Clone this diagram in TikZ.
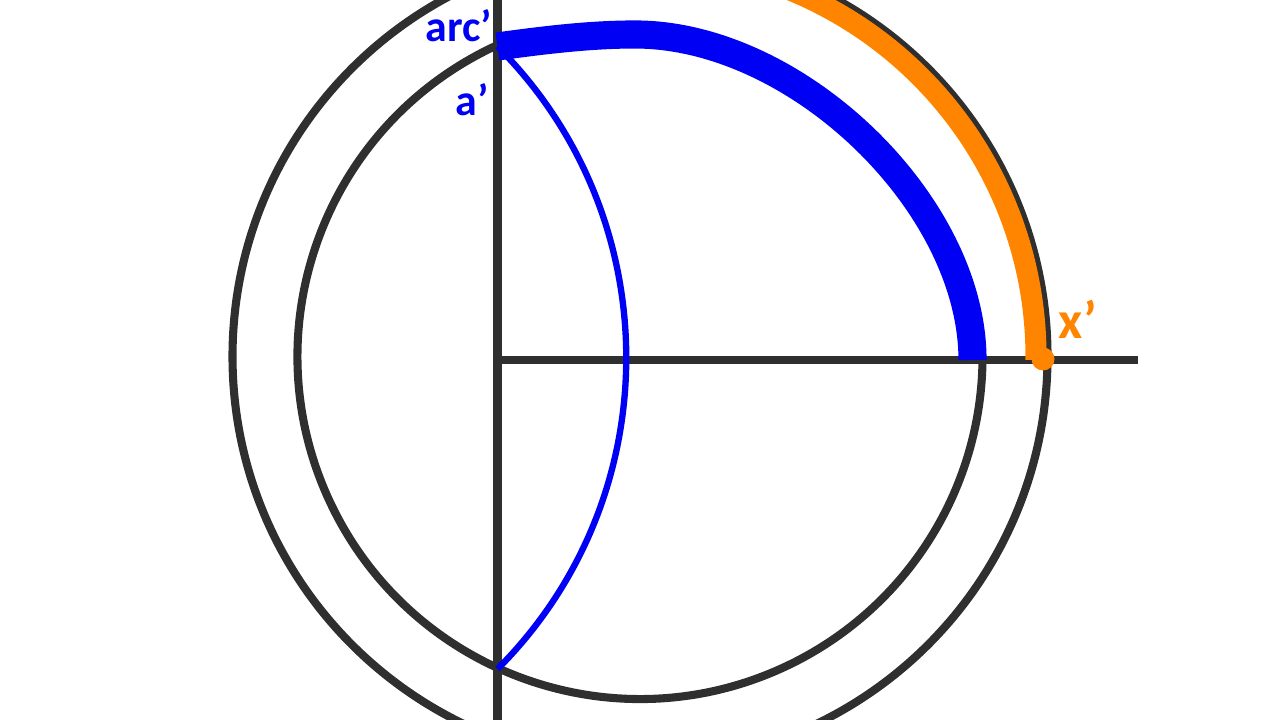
\documentclass[tikz,border=0pt]{standalone}
\usepackage{fontspec}
\setmainfont{Carlito}
\usetikzlibrary{positioning}
\definecolor{ink}{HTML}{2F2F2F}
\definecolor{arcblue}{HTML}{0000F5}
\definecolor{arcorange}{HTML}{FF8500}

\begin{document}
\begin{tikzpicture}
[
ring/.style={draw=ink, line width=2.3pt},
axisline/.style={draw=ink, line width=2.3pt},
band/.style={draw=arcblue, line width=8pt},
thinarc/.style={draw=arcblue, line width=1.8pt},
outband/.style={draw=arcorange, line width=6pt},
lab/.style={font=\bfseries\fontsize{12.5}{14}\selectfont, inner sep=0pt}
]
\useasboundingbox (0,0) rectangle (12.8,7.2);
\clip (0,0) rectangle (12.8,7.2);

\coordinate (C) at (6.40,3.635);
\coordinate (O) at (4.975,3.60);
\coordinate (ytop) at (4.975,7.2);
\coordinate (ybot) at (4.975,0);
\coordinate (xend) at (11.38,3.60);
\coordinate (arcp) at (4.975,6.735);
\coordinate (apex) at (6.35,6.855);
\coordinate (bandend) at (9.725,3.60);
\coordinate (bot) at (4.975,0.51);
\coordinate (xdot) at (10.43,3.61);

\draw[ring] (C) ++(114.7:3.425) arc [start angle=114.7, end angle=360, radius=3.425];
\draw[ring] (C) circle [radius=4.075];
\draw[axisline] (ybot) -- (ytop);
\draw[axisline] (O) -- (xend);

\draw[outband] (C) ++(-0.5:3.96) arc [start angle=-0.5, end angle=75, radius=3.96];
\draw[band] (arcp) .. controls (5.45,6.80) and (5.90,6.855) .. (apex)
  .. controls (7.97,6.855) and (9.725,5.16) .. (bandend);
\draw[thinarc] (arcp) to[bend left=45] (bot);
\fill[arcorange] (xdot) circle [radius=0.115];

\node[lab, text=arcblue] (arclab) at (4.59,6.94) {arc'};
\node[lab, text=arcblue] (alab) at (4.72,6.20) {a'};
\node[lab, text=arcorange, font=\bfseries\fontsize{15}{17}\selectfont, above right=0.2cm and 0.15cm of xdot] (xlab) {x'};
\end{tikzpicture}
\end{document}
